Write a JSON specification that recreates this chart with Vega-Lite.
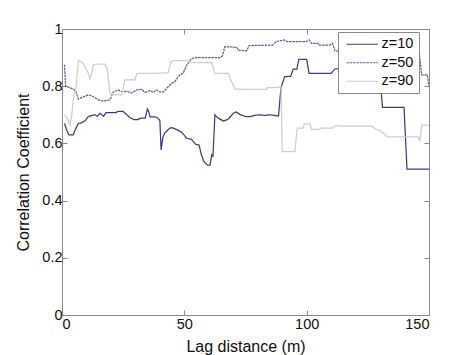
{
  "$schema": "https://vega.github.io/schema/vega-lite/v6.json",
  "autosize": "none",
  "width": 367,
  "height": 286,
  "padding": {"left": 62, "top": 29, "right": 45, "bottom": 40},
  "background": "white",
  "config": {
    "font": "Liberation Sans",
    "view": {"stroke": "#8a8a8a", "strokeWidth": 1},
    "axis": {
      "grid": false,
      "tickSize": -5,
      "tickColor": "#8a8a8a",
      "domainColor": "#8a8a8a",
      "labelColor": "#111111",
      "titleColor": "#111111",
      "labelFontSize": 14.5,
      "titleFontSize": 16,
      "titleFontWeight": "normal",
      "labelPadding": 5
    }
  },
  "data": {"values": [
    {"s":"z=10","lag":1,"r":0.67},{"s":"z=10","lag":2,"r":0.645},{"s":"z=10","lag":2.8,"r":0.63},{"s":"z=10","lag":4.6,"r":0.63},{"s":"z=10","lag":5.5,"r":0.65},{"s":"z=10","lag":6.7,"r":0.67},{"s":"z=10","lag":8,"r":0.672},{"s":"z=10","lag":9.5,"r":0.68},{"s":"z=10","lag":10.8,"r":0.694},{"s":"z=10","lag":12,"r":0.697},{"s":"z=10","lag":13.5,"r":0.7},{"s":"z=10","lag":14.5,"r":0.695},{"s":"z=10","lag":15.5,"r":0.705},{"s":"z=10","lag":16.3,"r":0.7},{"s":"z=10","lag":17,"r":0.695},{"s":"z=10","lag":18,"r":0.708},{"s":"z=10","lag":22,"r":0.708},{"s":"z=10","lag":23,"r":0.712},{"s":"z=10","lag":25,"r":0.712},{"s":"z=10","lag":26.5,"r":0.7},{"s":"z=10","lag":27.8,"r":0.69},{"s":"z=10","lag":29.4,"r":0.683},{"s":"z=10","lag":31,"r":0.683},{"s":"z=10","lag":32,"r":0.688},{"s":"z=10","lag":34,"r":0.688},{"s":"z=10","lag":34.9,"r":0.72},{"s":"z=10","lag":35.5,"r":0.71},{"s":"z=10","lag":36,"r":0.693},{"s":"z=10","lag":38,"r":0.693},{"s":"z=10","lag":39,"r":0.69},{"s":"z=10","lag":40,"r":0.68},{"s":"z=10","lag":40.5,"r":0.577},{"s":"z=10","lag":41.2,"r":0.62},{"s":"z=10","lag":42,"r":0.636},{"s":"z=10","lag":44,"r":0.653},{"s":"z=10","lag":45,"r":0.655},{"s":"z=10","lag":47,"r":0.648},{"s":"z=10","lag":49,"r":0.638},{"s":"z=10","lag":51,"r":0.618},{"s":"z=10","lag":53,"r":0.614},{"s":"z=10","lag":54.5,"r":0.598},{"s":"z=10","lag":56,"r":0.594},{"s":"z=10","lag":57,"r":0.56},{"s":"z=10","lag":58,"r":0.536},{"s":"z=10","lag":59.5,"r":0.524},{"s":"z=10","lag":60.5,"r":0.524},{"s":"z=10","lag":61.2,"r":0.56},{"s":"z=10","lag":61.7,"r":0.555},{"s":"z=10","lag":62.5,"r":0.7},{"s":"z=10","lag":63.5,"r":0.69},{"s":"z=10","lag":64.6,"r":0.685},{"s":"z=10","lag":66,"r":0.678},{"s":"z=10","lag":68,"r":0.685},{"s":"z=10","lag":70,"r":0.705},{"s":"z=10","lag":71,"r":0.71},{"s":"z=10","lag":73,"r":0.7},{"s":"z=10","lag":75,"r":0.694},{"s":"z=10","lag":77,"r":0.694},{"s":"z=10","lag":80,"r":0.7},{"s":"z=10","lag":83,"r":0.698},{"s":"z=10","lag":85,"r":0.7},{"s":"z=10","lag":88.5,"r":0.696},{"s":"z=10","lag":89.5,"r":0.795},{"s":"z=10","lag":91,"r":0.833},{"s":"z=10","lag":93.5,"r":0.835},{"s":"z=10","lag":94.5,"r":0.86},{"s":"z=10","lag":96,"r":0.86},{"s":"z=10","lag":96.8,"r":0.894},{"s":"z=10","lag":100,"r":0.894},{"s":"z=10","lag":101,"r":0.845},{"s":"z=10","lag":110,"r":0.845},{"s":"z=10","lag":111.5,"r":0.86},{"s":"z=10","lag":119,"r":0.862},{"s":"z=10","lag":120,"r":0.88},{"s":"z=10","lag":129.5,"r":0.88},{"s":"z=10","lag":131,"r":0.726},{"s":"z=10","lag":139.8,"r":0.726},{"s":"z=10","lag":141,"r":0.51},{"s":"z=10","lag":150,"r":0.51},

    {"s":"z=50","lag":1,"r":0.875},{"s":"z=50","lag":1.5,"r":0.8},{"s":"z=50","lag":4.6,"r":0.79},{"s":"z=50","lag":5.5,"r":0.785},{"s":"z=50","lag":6.7,"r":0.755},{"s":"z=50","lag":8,"r":0.76},{"s":"z=50","lag":10.8,"r":0.77},{"s":"z=50","lag":12.5,"r":0.765},{"s":"z=50","lag":14.9,"r":0.752},{"s":"z=50","lag":16.9,"r":0.748},{"s":"z=50","lag":19.6,"r":0.752},{"s":"z=50","lag":21,"r":0.78},{"s":"z=50","lag":23,"r":0.787},{"s":"z=50","lag":24.4,"r":0.78},{"s":"z=50","lag":26.6,"r":0.782},{"s":"z=50","lag":28.5,"r":0.776},{"s":"z=50","lag":30.5,"r":0.787},{"s":"z=50","lag":32.6,"r":0.789},{"s":"z=50","lag":33.9,"r":0.778},{"s":"z=50","lag":36,"r":0.785},{"s":"z=50","lag":37.3,"r":0.778},{"s":"z=50","lag":38.6,"r":0.787},{"s":"z=50","lag":40,"r":0.78},{"s":"z=50","lag":41.5,"r":0.78},{"s":"z=50","lag":42.8,"r":0.793},{"s":"z=50","lag":44.8,"r":0.81},{"s":"z=50","lag":46,"r":0.815},{"s":"z=50","lag":48.2,"r":0.84},{"s":"z=50","lag":49.5,"r":0.845},{"s":"z=50","lag":51,"r":0.874},{"s":"z=50","lag":52,"r":0.885},{"s":"z=50","lag":53,"r":0.897},{"s":"z=50","lag":55,"r":0.9},{"s":"z=50","lag":64.5,"r":0.9},{"s":"z=50","lag":65.5,"r":0.905},{"s":"z=50","lag":66.6,"r":0.938},{"s":"z=50","lag":71.5,"r":0.936},{"s":"z=50","lag":72,"r":0.926},{"s":"z=50","lag":75.5,"r":0.924},{"s":"z=50","lag":76.5,"r":0.942},{"s":"z=50","lag":86,"r":0.944},{"s":"z=50","lag":87.7,"r":0.956},{"s":"z=50","lag":90.7,"r":0.962},{"s":"z=50","lag":92,"r":0.956},{"s":"z=50","lag":100,"r":0.956},{"s":"z=50","lag":101,"r":0.962},{"s":"z=50","lag":102,"r":0.95},{"s":"z=50","lag":104.6,"r":0.95},{"s":"z=50","lag":105,"r":0.944},{"s":"z=50","lag":109.5,"r":0.944},{"s":"z=50","lag":110.5,"r":0.95},{"s":"z=50","lag":111.6,"r":0.924},{"s":"z=50","lag":114,"r":0.92},{"s":"z=50","lag":146,"r":0.92},{"s":"z=50","lag":147,"r":0.84},{"s":"z=50","lag":149.3,"r":0.84},{"s":"z=50","lag":150,"r":0.8},

    {"s":"z=90","lag":1,"r":0.7},{"s":"z=90","lag":2,"r":0.69},{"s":"z=90","lag":3.3,"r":0.665},{"s":"z=90","lag":4,"r":0.7},{"s":"z=90","lag":4.6,"r":0.752},{"s":"z=90","lag":5.8,"r":0.8},{"s":"z=90","lag":6.7,"r":0.89},{"s":"z=90","lag":8,"r":0.885},{"s":"z=90","lag":9,"r":0.874},{"s":"z=90","lag":9.8,"r":0.86},{"s":"z=90","lag":10.8,"r":0.845},{"s":"z=90","lag":11.4,"r":0.827},{"s":"z=90","lag":12,"r":0.84},{"s":"z=90","lag":12.8,"r":0.874},{"s":"z=90","lag":14,"r":0.877},{"s":"z=90","lag":17.6,"r":0.877},{"s":"z=90","lag":18.5,"r":0.86},{"s":"z=90","lag":19.6,"r":0.775},{"s":"z=90","lag":20.4,"r":0.77},{"s":"z=90","lag":24.5,"r":0.77},{"s":"z=90","lag":25.7,"r":0.822},{"s":"z=90","lag":29.8,"r":0.822},{"s":"z=90","lag":30.6,"r":0.845},{"s":"z=90","lag":38,"r":0.845},{"s":"z=90","lag":43.4,"r":0.847},{"s":"z=90","lag":44.5,"r":0.885},{"s":"z=90","lag":45.5,"r":0.889},{"s":"z=90","lag":51,"r":0.889},{"s":"z=90","lag":52.3,"r":0.884},{"s":"z=90","lag":53.5,"r":0.882},{"s":"z=90","lag":61.2,"r":0.882},{"s":"z=90","lag":62.5,"r":0.845},{"s":"z=90","lag":68,"r":0.845},{"s":"z=90","lag":68.7,"r":0.827},{"s":"z=90","lag":70.7,"r":0.79},{"s":"z=90","lag":75,"r":0.789},{"s":"z=90","lag":83.6,"r":0.789},{"s":"z=90","lag":84,"r":0.795},{"s":"z=90","lag":88,"r":0.795},{"s":"z=90","lag":89.5,"r":0.8},{"s":"z=90","lag":90,"r":0.571},{"s":"z=90","lag":95.2,"r":0.571},{"s":"z=90","lag":96,"r":0.647},{"s":"z=90","lag":96.5,"r":0.653},{"s":"z=90","lag":98.6,"r":0.653},{"s":"z=90","lag":99,"r":0.668},{"s":"z=90","lag":101.4,"r":0.668},{"s":"z=90","lag":102,"r":0.649},{"s":"z=90","lag":105,"r":0.649},{"s":"z=90","lag":106,"r":0.653},{"s":"z=90","lag":110.5,"r":0.653},{"s":"z=90","lag":111.6,"r":0.661},{"s":"z=90","lag":126.7,"r":0.66},{"s":"z=90","lag":128,"r":0.65},{"s":"z=90","lag":130,"r":0.645},{"s":"z=90","lag":133,"r":0.623},{"s":"z=90","lag":145.5,"r":0.623},{"s":"z=90","lag":146.3,"r":0.61},{"s":"z=90","lag":147,"r":0.664},{"s":"z=90","lag":150,"r":0.664}
  ]},
  "layer": [
    {
      "mark": {"type": "line", "strokeWidth": 1.25, "clip": true},
      "encoding": {
        "x": {"field": "lag", "type": "quantitative", "scale": {"domain": [0, 150], "nice": false},
              "axis": {"values": [0, 50, 100, 150], "labelPadding": 7, "title": "Lag distance (m)", "titleY": 31, "titleBaseline": "middle"}},
        "y": {"field": "r", "type": "quantitative", "scale": {"domain": [0, 1], "nice": false, "zero": false},
              "axis": {"values": [0, 0.2, 0.4, 0.6, 0.8, 1], "format": "~g", "title": "Correlation Coefficient", "titleX": -39, "titleBaseline": "middle"}},
        "color": {"field": "s", "type": "nominal",
                  "scale": {"domain": ["z=10", "z=50", "z=90"], "range": ["#3d3d85", "#5f5f9c", "#cdcdcd"]},
                  "legend": {"title": null, "orient": "none", "legendX": 276, "legendY": 3,
                             "fillColor": "white", "strokeColor": "#8a8a8a", "padding": 5,
                             "symbolType": "M-2.6,0H2.6", "symbolSize": 144, "symbolStrokeWidth": 1.2,
                             "labelFontSize": 14.5, "labelColor": "#111111", "rowPadding": 3.5, "labelOffset": 12, "symbolOffset": 12}},
        "strokeDash": {"field": "s", "type": "nominal",
                       "scale": {"domain": ["z=10", "z=50", "z=90"], "range": [[1, 0], [2.5, 0.8], [1, 0]]},
                       "legend": {"title": null, "orient": "none", "legendX": 276, "legendY": 3,
                             "fillColor": "white", "strokeColor": "#8a8a8a", "padding": 5,
                             "symbolType": "M-2.6,0H2.6", "symbolSize": 144, "symbolStrokeWidth": 1.2,
                             "labelFontSize": 14.5, "labelColor": "#111111", "rowPadding": 3.5, "labelOffset": 12, "symbolOffset": 12}}
      }
    },
    {
      "mark": {"type": "line", "opacity": 0},
      "encoding": {
        "x": {"field": "lag", "type": "quantitative",
              "axis": {"orient": "top", "values": [0, 50, 100, 150], "labels": false, "domain": false, "title": null}},
        "y": {"field": "r", "type": "quantitative",
              "axis": {"orient": "right", "values": [0, 0.2, 0.4, 0.6, 0.8, 1], "labels": false, "domain": false, "title": null}},
        "detail": {"field": "s"}
      }
    }
  ],
  "resolve": {"axis": {"x": "independent", "y": "independent"}}
}
